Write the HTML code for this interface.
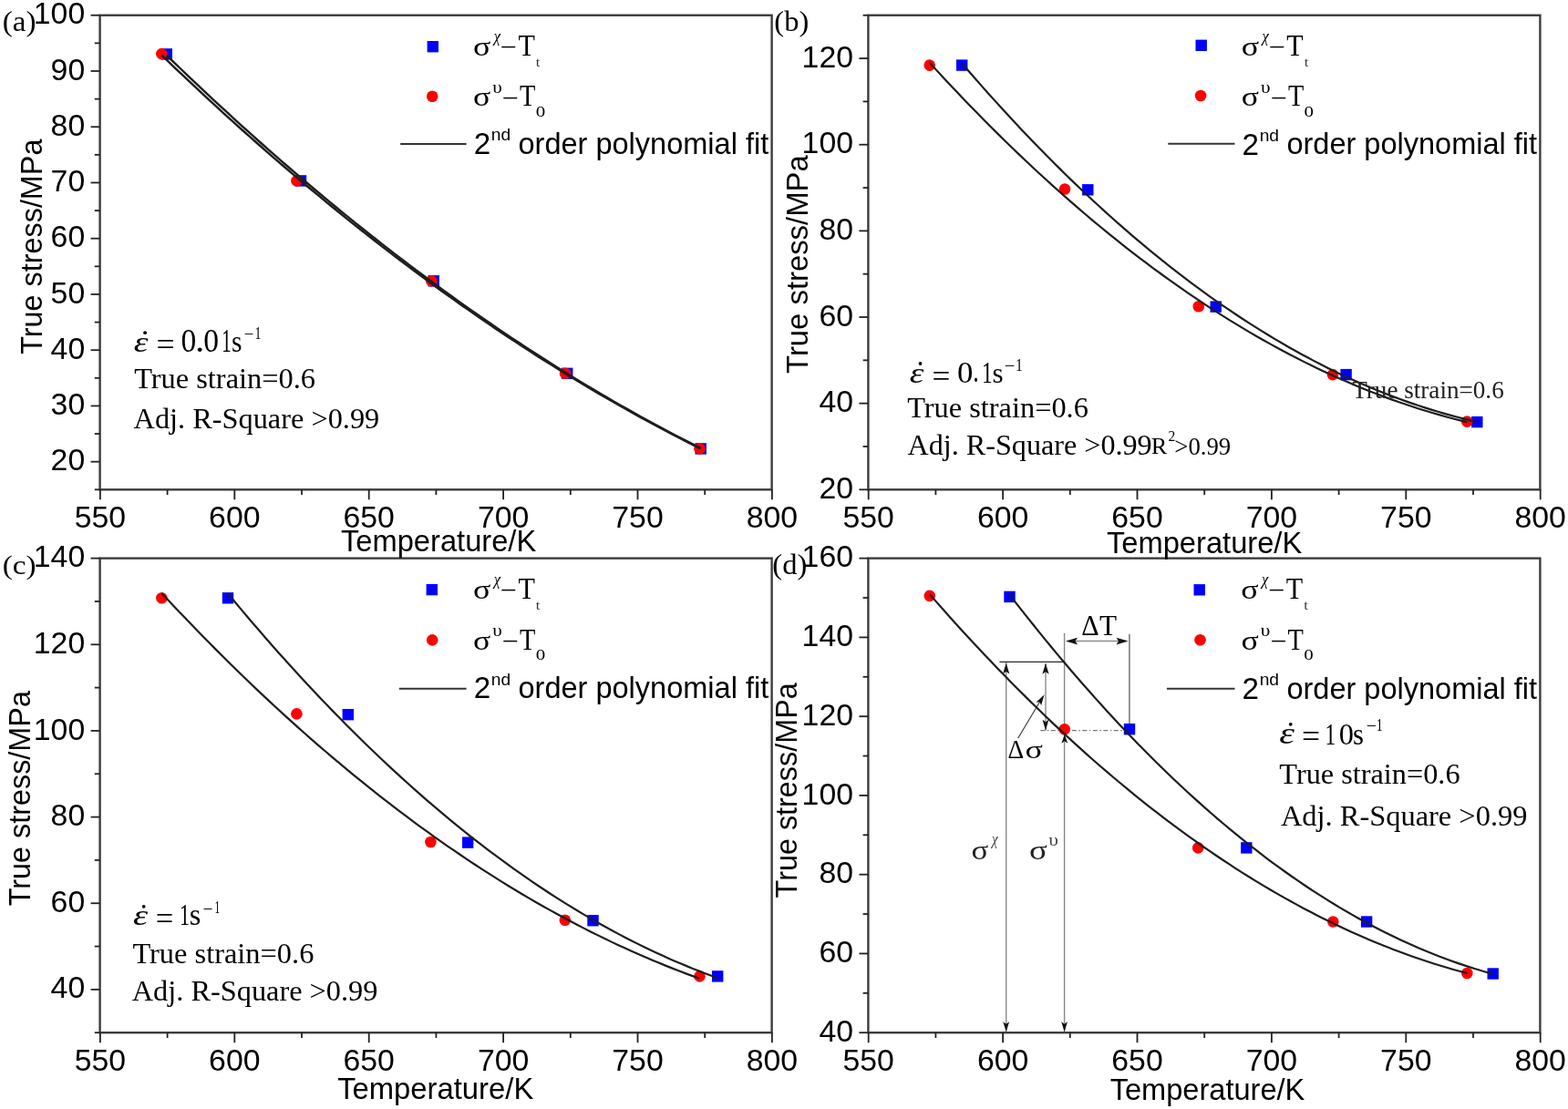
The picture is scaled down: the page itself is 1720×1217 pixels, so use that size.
<!DOCTYPE html>
<html><head><meta charset="utf-8"><title>True stress vs temperature</title>
<style>html,body{margin:0;padding:0;background:#fff;overflow:hidden;} svg{display:block;}</style></head>
<body><svg width="1720" height="1217" viewBox="0 0 1720 1217">
<rect width="1720" height="1217" fill="#fff"/>
<rect x="109.60" y="16.75" width="737.00" height="520.55" fill="none" stroke="#3c3c3c" stroke-width="2.4"/>
<line x1="109.90" y1="537.30" x2="109.90" y2="548.30" stroke="#222" stroke-width="1.8" />
<text x="109.90" y="578.80" font-family="'Liberation Sans', Arial, sans-serif" font-size="33.80" text-anchor="middle" fill="#000">550</text>
<line x1="257.30" y1="537.30" x2="257.30" y2="548.30" stroke="#222" stroke-width="1.8" />
<text x="257.30" y="578.80" font-family="'Liberation Sans', Arial, sans-serif" font-size="33.80" text-anchor="middle" fill="#000">600</text>
<line x1="404.70" y1="537.30" x2="404.70" y2="548.30" stroke="#222" stroke-width="1.8" />
<text x="404.70" y="578.80" font-family="'Liberation Sans', Arial, sans-serif" font-size="33.80" text-anchor="middle" fill="#000">650</text>
<line x1="552.10" y1="537.30" x2="552.10" y2="548.30" stroke="#222" stroke-width="1.8" />
<text x="552.10" y="578.80" font-family="'Liberation Sans', Arial, sans-serif" font-size="33.80" text-anchor="middle" fill="#000">700</text>
<line x1="699.50" y1="537.30" x2="699.50" y2="548.30" stroke="#222" stroke-width="1.8" />
<text x="699.50" y="578.80" font-family="'Liberation Sans', Arial, sans-serif" font-size="33.80" text-anchor="middle" fill="#000">750</text>
<line x1="846.90" y1="537.30" x2="846.90" y2="548.30" stroke="#222" stroke-width="1.8" />
<text x="846.90" y="578.80" font-family="'Liberation Sans', Arial, sans-serif" font-size="33.80" text-anchor="middle" fill="#000">800</text>
<line x1="183.60" y1="537.30" x2="183.60" y2="543.10" stroke="#222" stroke-width="1.8" />
<line x1="331.00" y1="537.30" x2="331.00" y2="543.10" stroke="#222" stroke-width="1.8" />
<line x1="478.40" y1="537.30" x2="478.40" y2="543.10" stroke="#222" stroke-width="1.8" />
<line x1="625.80" y1="537.30" x2="625.80" y2="543.10" stroke="#222" stroke-width="1.8" />
<line x1="773.20" y1="537.30" x2="773.20" y2="543.10" stroke="#222" stroke-width="1.8" />
<line x1="99.60" y1="506.68" x2="109.60" y2="506.68" stroke="#222" stroke-width="1.8" />
<text x="93.20" y="516.28" font-family="'Liberation Sans', Arial, sans-serif" font-size="33.80" text-anchor="end" fill="#000">20</text>
<line x1="99.60" y1="445.44" x2="109.60" y2="445.44" stroke="#222" stroke-width="1.8" />
<text x="93.20" y="455.04" font-family="'Liberation Sans', Arial, sans-serif" font-size="33.80" text-anchor="end" fill="#000">30</text>
<line x1="99.60" y1="384.20" x2="109.60" y2="384.20" stroke="#222" stroke-width="1.8" />
<text x="93.20" y="393.80" font-family="'Liberation Sans', Arial, sans-serif" font-size="33.80" text-anchor="end" fill="#000">40</text>
<line x1="99.60" y1="322.96" x2="109.60" y2="322.96" stroke="#222" stroke-width="1.8" />
<text x="93.20" y="332.56" font-family="'Liberation Sans', Arial, sans-serif" font-size="33.80" text-anchor="end" fill="#000">50</text>
<line x1="99.60" y1="261.71" x2="109.60" y2="261.71" stroke="#222" stroke-width="1.8" />
<text x="93.20" y="271.31" font-family="'Liberation Sans', Arial, sans-serif" font-size="33.80" text-anchor="end" fill="#000">60</text>
<line x1="99.60" y1="200.47" x2="109.60" y2="200.47" stroke="#222" stroke-width="1.8" />
<text x="93.20" y="210.07" font-family="'Liberation Sans', Arial, sans-serif" font-size="33.80" text-anchor="end" fill="#000">70</text>
<line x1="99.60" y1="139.23" x2="109.60" y2="139.23" stroke="#222" stroke-width="1.8" />
<text x="93.20" y="148.83" font-family="'Liberation Sans', Arial, sans-serif" font-size="33.80" text-anchor="end" fill="#000">80</text>
<line x1="99.60" y1="77.99" x2="109.60" y2="77.99" stroke="#222" stroke-width="1.8" />
<text x="93.20" y="87.59" font-family="'Liberation Sans', Arial, sans-serif" font-size="33.80" text-anchor="end" fill="#000">90</text>
<line x1="99.60" y1="16.75" x2="109.60" y2="16.75" stroke="#222" stroke-width="1.8" />
<text x="93.20" y="26.35" font-family="'Liberation Sans', Arial, sans-serif" font-size="33.80" text-anchor="end" fill="#000">100</text>
<line x1="103.80" y1="537.30" x2="109.60" y2="537.30" stroke="#222" stroke-width="1.8" />
<line x1="103.80" y1="476.06" x2="109.60" y2="476.06" stroke="#222" stroke-width="1.8" />
<line x1="103.80" y1="414.82" x2="109.60" y2="414.82" stroke="#222" stroke-width="1.8" />
<line x1="103.80" y1="353.58" x2="109.60" y2="353.58" stroke="#222" stroke-width="1.8" />
<line x1="103.80" y1="292.34" x2="109.60" y2="292.34" stroke="#222" stroke-width="1.8" />
<line x1="103.80" y1="231.09" x2="109.60" y2="231.09" stroke="#222" stroke-width="1.8" />
<line x1="103.80" y1="169.85" x2="109.60" y2="169.85" stroke="#222" stroke-width="1.8" />
<line x1="103.80" y1="108.61" x2="109.60" y2="108.61" stroke="#222" stroke-width="1.8" />
<line x1="103.80" y1="47.37" x2="109.60" y2="47.37" stroke="#222" stroke-width="1.8" />
<rect x="952.40" y="16.75" width="737.00" height="520.55" fill="none" stroke="#3c3c3c" stroke-width="2.4"/>
<line x1="952.70" y1="537.30" x2="952.70" y2="548.30" stroke="#222" stroke-width="1.8" />
<text x="952.70" y="578.80" font-family="'Liberation Sans', Arial, sans-serif" font-size="33.80" text-anchor="middle" fill="#000">550</text>
<line x1="1100.10" y1="537.30" x2="1100.10" y2="548.30" stroke="#222" stroke-width="1.8" />
<text x="1100.10" y="578.80" font-family="'Liberation Sans', Arial, sans-serif" font-size="33.80" text-anchor="middle" fill="#000">600</text>
<line x1="1247.50" y1="537.30" x2="1247.50" y2="548.30" stroke="#222" stroke-width="1.8" />
<text x="1247.50" y="578.80" font-family="'Liberation Sans', Arial, sans-serif" font-size="33.80" text-anchor="middle" fill="#000">650</text>
<line x1="1394.90" y1="537.30" x2="1394.90" y2="548.30" stroke="#222" stroke-width="1.8" />
<text x="1394.90" y="578.80" font-family="'Liberation Sans', Arial, sans-serif" font-size="33.80" text-anchor="middle" fill="#000">700</text>
<line x1="1542.30" y1="537.30" x2="1542.30" y2="548.30" stroke="#222" stroke-width="1.8" />
<text x="1542.30" y="578.80" font-family="'Liberation Sans', Arial, sans-serif" font-size="33.80" text-anchor="middle" fill="#000">750</text>
<line x1="1689.70" y1="537.30" x2="1689.70" y2="548.30" stroke="#222" stroke-width="1.8" />
<text x="1689.70" y="578.80" font-family="'Liberation Sans', Arial, sans-serif" font-size="33.80" text-anchor="middle" fill="#000">800</text>
<line x1="1026.40" y1="537.30" x2="1026.40" y2="543.10" stroke="#222" stroke-width="1.8" />
<line x1="1173.80" y1="537.30" x2="1173.80" y2="543.10" stroke="#222" stroke-width="1.8" />
<line x1="1321.20" y1="537.30" x2="1321.20" y2="543.10" stroke="#222" stroke-width="1.8" />
<line x1="1468.60" y1="537.30" x2="1468.60" y2="543.10" stroke="#222" stroke-width="1.8" />
<line x1="1616.00" y1="537.30" x2="1616.00" y2="543.10" stroke="#222" stroke-width="1.8" />
<line x1="942.40" y1="537.30" x2="952.40" y2="537.30" stroke="#222" stroke-width="1.8" />
<text x="936.00" y="546.90" font-family="'Liberation Sans', Arial, sans-serif" font-size="33.80" text-anchor="end" fill="#000">20</text>
<line x1="942.40" y1="442.65" x2="952.40" y2="442.65" stroke="#222" stroke-width="1.8" />
<text x="936.00" y="452.25" font-family="'Liberation Sans', Arial, sans-serif" font-size="33.80" text-anchor="end" fill="#000">40</text>
<line x1="942.40" y1="348.01" x2="952.40" y2="348.01" stroke="#222" stroke-width="1.8" />
<text x="936.00" y="357.61" font-family="'Liberation Sans', Arial, sans-serif" font-size="33.80" text-anchor="end" fill="#000">60</text>
<line x1="942.40" y1="253.36" x2="952.40" y2="253.36" stroke="#222" stroke-width="1.8" />
<text x="936.00" y="262.96" font-family="'Liberation Sans', Arial, sans-serif" font-size="33.80" text-anchor="end" fill="#000">80</text>
<line x1="942.40" y1="158.72" x2="952.40" y2="158.72" stroke="#222" stroke-width="1.8" />
<text x="936.00" y="168.32" font-family="'Liberation Sans', Arial, sans-serif" font-size="33.80" text-anchor="end" fill="#000">100</text>
<line x1="942.40" y1="64.07" x2="952.40" y2="64.07" stroke="#222" stroke-width="1.8" />
<text x="936.00" y="73.67" font-family="'Liberation Sans', Arial, sans-serif" font-size="33.80" text-anchor="end" fill="#000">120</text>
<line x1="946.60" y1="489.98" x2="952.40" y2="489.98" stroke="#222" stroke-width="1.8" />
<line x1="946.60" y1="395.33" x2="952.40" y2="395.33" stroke="#222" stroke-width="1.8" />
<line x1="946.60" y1="300.69" x2="952.40" y2="300.69" stroke="#222" stroke-width="1.8" />
<line x1="946.60" y1="206.04" x2="952.40" y2="206.04" stroke="#222" stroke-width="1.8" />
<line x1="946.60" y1="111.40" x2="952.40" y2="111.40" stroke="#222" stroke-width="1.8" />
<line x1="946.60" y1="16.75" x2="952.40" y2="16.75" stroke="#222" stroke-width="1.8" />
<rect x="109.60" y="612.65" width="737.00" height="520.55" fill="none" stroke="#3c3c3c" stroke-width="2.4"/>
<line x1="109.90" y1="1133.20" x2="109.90" y2="1144.20" stroke="#222" stroke-width="1.8" />
<text x="109.90" y="1174.70" font-family="'Liberation Sans', Arial, sans-serif" font-size="33.80" text-anchor="middle" fill="#000">550</text>
<line x1="257.30" y1="1133.20" x2="257.30" y2="1144.20" stroke="#222" stroke-width="1.8" />
<text x="257.30" y="1174.70" font-family="'Liberation Sans', Arial, sans-serif" font-size="33.80" text-anchor="middle" fill="#000">600</text>
<line x1="404.70" y1="1133.20" x2="404.70" y2="1144.20" stroke="#222" stroke-width="1.8" />
<text x="404.70" y="1174.70" font-family="'Liberation Sans', Arial, sans-serif" font-size="33.80" text-anchor="middle" fill="#000">650</text>
<line x1="552.10" y1="1133.20" x2="552.10" y2="1144.20" stroke="#222" stroke-width="1.8" />
<text x="552.10" y="1174.70" font-family="'Liberation Sans', Arial, sans-serif" font-size="33.80" text-anchor="middle" fill="#000">700</text>
<line x1="699.50" y1="1133.20" x2="699.50" y2="1144.20" stroke="#222" stroke-width="1.8" />
<text x="699.50" y="1174.70" font-family="'Liberation Sans', Arial, sans-serif" font-size="33.80" text-anchor="middle" fill="#000">750</text>
<line x1="846.90" y1="1133.20" x2="846.90" y2="1144.20" stroke="#222" stroke-width="1.8" />
<text x="846.90" y="1174.70" font-family="'Liberation Sans', Arial, sans-serif" font-size="33.80" text-anchor="middle" fill="#000">800</text>
<line x1="183.60" y1="1133.20" x2="183.60" y2="1139.00" stroke="#222" stroke-width="1.8" />
<line x1="331.00" y1="1133.20" x2="331.00" y2="1139.00" stroke="#222" stroke-width="1.8" />
<line x1="478.40" y1="1133.20" x2="478.40" y2="1139.00" stroke="#222" stroke-width="1.8" />
<line x1="625.80" y1="1133.20" x2="625.80" y2="1139.00" stroke="#222" stroke-width="1.8" />
<line x1="773.20" y1="1133.20" x2="773.20" y2="1139.00" stroke="#222" stroke-width="1.8" />
<line x1="99.60" y1="1085.88" x2="109.60" y2="1085.88" stroke="#222" stroke-width="1.8" />
<text x="93.20" y="1095.48" font-family="'Liberation Sans', Arial, sans-serif" font-size="33.80" text-anchor="end" fill="#000">40</text>
<line x1="99.60" y1="991.23" x2="109.60" y2="991.23" stroke="#222" stroke-width="1.8" />
<text x="93.20" y="1000.83" font-family="'Liberation Sans', Arial, sans-serif" font-size="33.80" text-anchor="end" fill="#000">60</text>
<line x1="99.60" y1="896.59" x2="109.60" y2="896.59" stroke="#222" stroke-width="1.8" />
<text x="93.20" y="906.19" font-family="'Liberation Sans', Arial, sans-serif" font-size="33.80" text-anchor="end" fill="#000">80</text>
<line x1="99.60" y1="801.94" x2="109.60" y2="801.94" stroke="#222" stroke-width="1.8" />
<text x="93.20" y="811.54" font-family="'Liberation Sans', Arial, sans-serif" font-size="33.80" text-anchor="end" fill="#000">100</text>
<line x1="99.60" y1="707.30" x2="109.60" y2="707.30" stroke="#222" stroke-width="1.8" />
<text x="93.20" y="716.90" font-family="'Liberation Sans', Arial, sans-serif" font-size="33.80" text-anchor="end" fill="#000">120</text>
<line x1="99.60" y1="612.65" x2="109.60" y2="612.65" stroke="#222" stroke-width="1.8" />
<text x="93.20" y="622.25" font-family="'Liberation Sans', Arial, sans-serif" font-size="33.80" text-anchor="end" fill="#000">140</text>
<line x1="103.80" y1="1133.20" x2="109.60" y2="1133.20" stroke="#222" stroke-width="1.8" />
<line x1="103.80" y1="1038.55" x2="109.60" y2="1038.55" stroke="#222" stroke-width="1.8" />
<line x1="103.80" y1="943.91" x2="109.60" y2="943.91" stroke="#222" stroke-width="1.8" />
<line x1="103.80" y1="849.26" x2="109.60" y2="849.26" stroke="#222" stroke-width="1.8" />
<line x1="103.80" y1="754.62" x2="109.60" y2="754.62" stroke="#222" stroke-width="1.8" />
<line x1="103.80" y1="659.97" x2="109.60" y2="659.97" stroke="#222" stroke-width="1.8" />
<rect x="952.40" y="612.65" width="737.00" height="520.55" fill="none" stroke="#3c3c3c" stroke-width="2.4"/>
<line x1="952.70" y1="1133.20" x2="952.70" y2="1144.20" stroke="#222" stroke-width="1.8" />
<text x="952.70" y="1174.70" font-family="'Liberation Sans', Arial, sans-serif" font-size="33.80" text-anchor="middle" fill="#000">550</text>
<line x1="1100.10" y1="1133.20" x2="1100.10" y2="1144.20" stroke="#222" stroke-width="1.8" />
<text x="1100.10" y="1174.70" font-family="'Liberation Sans', Arial, sans-serif" font-size="33.80" text-anchor="middle" fill="#000">600</text>
<line x1="1247.50" y1="1133.20" x2="1247.50" y2="1144.20" stroke="#222" stroke-width="1.8" />
<text x="1247.50" y="1174.70" font-family="'Liberation Sans', Arial, sans-serif" font-size="33.80" text-anchor="middle" fill="#000">650</text>
<line x1="1394.90" y1="1133.20" x2="1394.90" y2="1144.20" stroke="#222" stroke-width="1.8" />
<text x="1394.90" y="1174.70" font-family="'Liberation Sans', Arial, sans-serif" font-size="33.80" text-anchor="middle" fill="#000">700</text>
<line x1="1542.30" y1="1133.20" x2="1542.30" y2="1144.20" stroke="#222" stroke-width="1.8" />
<text x="1542.30" y="1174.70" font-family="'Liberation Sans', Arial, sans-serif" font-size="33.80" text-anchor="middle" fill="#000">750</text>
<line x1="1689.70" y1="1133.20" x2="1689.70" y2="1144.20" stroke="#222" stroke-width="1.8" />
<text x="1689.70" y="1174.70" font-family="'Liberation Sans', Arial, sans-serif" font-size="33.80" text-anchor="middle" fill="#000">800</text>
<line x1="1026.40" y1="1133.20" x2="1026.40" y2="1139.00" stroke="#222" stroke-width="1.8" />
<line x1="1173.80" y1="1133.20" x2="1173.80" y2="1139.00" stroke="#222" stroke-width="1.8" />
<line x1="1321.20" y1="1133.20" x2="1321.20" y2="1139.00" stroke="#222" stroke-width="1.8" />
<line x1="1468.60" y1="1133.20" x2="1468.60" y2="1139.00" stroke="#222" stroke-width="1.8" />
<line x1="1616.00" y1="1133.20" x2="1616.00" y2="1139.00" stroke="#222" stroke-width="1.8" />
<line x1="942.40" y1="1133.20" x2="952.40" y2="1133.20" stroke="#222" stroke-width="1.8" />
<text x="936.00" y="1142.80" font-family="'Liberation Sans', Arial, sans-serif" font-size="33.80" text-anchor="end" fill="#000">40</text>
<line x1="942.40" y1="1046.44" x2="952.40" y2="1046.44" stroke="#222" stroke-width="1.8" />
<text x="936.00" y="1056.04" font-family="'Liberation Sans', Arial, sans-serif" font-size="33.80" text-anchor="end" fill="#000">60</text>
<line x1="942.40" y1="959.68" x2="952.40" y2="959.68" stroke="#222" stroke-width="1.8" />
<text x="936.00" y="969.28" font-family="'Liberation Sans', Arial, sans-serif" font-size="33.80" text-anchor="end" fill="#000">80</text>
<line x1="942.40" y1="872.92" x2="952.40" y2="872.92" stroke="#222" stroke-width="1.8" />
<text x="936.00" y="882.52" font-family="'Liberation Sans', Arial, sans-serif" font-size="33.80" text-anchor="end" fill="#000">100</text>
<line x1="942.40" y1="786.17" x2="952.40" y2="786.17" stroke="#222" stroke-width="1.8" />
<text x="936.00" y="795.77" font-family="'Liberation Sans', Arial, sans-serif" font-size="33.80" text-anchor="end" fill="#000">120</text>
<line x1="942.40" y1="699.41" x2="952.40" y2="699.41" stroke="#222" stroke-width="1.8" />
<text x="936.00" y="709.01" font-family="'Liberation Sans', Arial, sans-serif" font-size="33.80" text-anchor="end" fill="#000">140</text>
<line x1="942.40" y1="612.65" x2="952.40" y2="612.65" stroke="#222" stroke-width="1.8" />
<text x="936.00" y="622.25" font-family="'Liberation Sans', Arial, sans-serif" font-size="33.80" text-anchor="end" fill="#000">160</text>
<line x1="946.60" y1="1089.82" x2="952.40" y2="1089.82" stroke="#222" stroke-width="1.8" />
<line x1="946.60" y1="1003.06" x2="952.40" y2="1003.06" stroke="#222" stroke-width="1.8" />
<line x1="946.60" y1="916.30" x2="952.40" y2="916.30" stroke="#222" stroke-width="1.8" />
<line x1="946.60" y1="829.55" x2="952.40" y2="829.55" stroke="#222" stroke-width="1.8" />
<line x1="946.60" y1="742.79" x2="952.40" y2="742.79" stroke="#222" stroke-width="1.8" />
<line x1="946.60" y1="656.03" x2="952.40" y2="656.03" stroke="#222" stroke-width="1.8" />
<text x="373.96" y="605.30" font-family="'Liberation Sans', Arial, sans-serif" font-size="32.69" text-anchor="start" fill="#000">Temperature/K</text>
<text x="1213.96" y="607.00" font-family="'Liberation Sans', Arial, sans-serif" font-size="32.69" text-anchor="start" fill="#000">Temperature/K</text>
<text x="370.16" y="1205.80" font-family="'Liberation Sans', Arial, sans-serif" font-size="32.80" text-anchor="start" fill="#000">Temperature/K</text>
<text x="1217.67" y="1206.50" font-family="'Liberation Sans', Arial, sans-serif" font-size="32.58" text-anchor="start" fill="#000">Temperature/K</text>
<text transform="translate(45.98,388.83) rotate(-90)" font-family="'Liberation Sans', Arial, sans-serif" font-size="32.38" text-anchor="start" fill="#000">True stress/MPa</text>
<text transform="translate(885.97,409.94) rotate(-90)" font-family="'Liberation Sans', Arial, sans-serif" font-size="32.84" text-anchor="start" fill="#000">True stress/MPa</text>
<text transform="translate(32.68,994.33) rotate(-90)" font-family="'Liberation Sans', Arial, sans-serif" font-size="32.38" text-anchor="start" fill="#000">True stress/MPa</text>
<text transform="translate(874.28,985.43) rotate(-90)" font-family="'Liberation Sans', Arial, sans-serif" font-size="32.37" text-anchor="start" fill="#000">True stress/MPa</text>
<text transform="translate(2.80,33.63) scale(1.0588,1)" font-family="'Liberation Serif', 'Times New Roman', serif" font-size="31.40" text-anchor="start" fill="#000">(a)</text>
<text transform="translate(849.34,34.24) scale(1.0528,1)" font-family="'Liberation Serif', 'Times New Roman', serif" font-size="30.85" text-anchor="start" fill="#000">(b)</text>
<text transform="translate(2.80,629.98) scale(1.1176,1)" font-family="'Liberation Serif', 'Times New Roman', serif" font-size="29.75" text-anchor="start" fill="#000">(c)</text>
<text transform="translate(847.34,630.24) scale(1.0528,1)" font-family="'Liberation Serif', 'Times New Roman', serif" font-size="30.85" text-anchor="start" fill="#000">(d)</text>
<line x1="1103.70" y1="726.40" x2="1103.70" y2="1132.20" stroke="#8a8a8a" stroke-width="1.4" />
<line x1="1167.60" y1="694.80" x2="1167.60" y2="1132.20" stroke="#8a8a8a" stroke-width="1.4" />
<line x1="1147.00" y1="728.00" x2="1147.00" y2="801.50" stroke="#8a8a8a" stroke-width="1.4" />
<line x1="1238.90" y1="695.70" x2="1238.90" y2="800.00" stroke="#8a8a8a" stroke-width="1.8" />
<line x1="1096.40" y1="726.40" x2="1167.60" y2="726.40" stroke="#2a2a2a" stroke-width="1.3" />
<line x1="1172.00" y1="703.60" x2="1235.00" y2="703.60" stroke="#8a8a8a" stroke-width="1.5" />
<path d="M1169.00,703.60 L1182.00,699.80 L1179.50,703.60 L1182.00,707.40 Z" fill="#111"/>
<path d="M1237.50,703.60 L1224.50,707.40 L1227.00,703.60 L1224.50,699.80 Z" fill="#111"/>
<path d="M1103.70,727.60 L1107.30,739.60 L1103.70,737.10 L1100.10,739.60 Z" fill="#111"/>
<path d="M1147.00,727.80 L1150.60,739.80 L1147.00,737.30 L1143.40,739.80 Z" fill="#111"/>
<path d="M1147.00,801.70 L1143.60,789.70 L1147.00,792.20 L1150.40,789.70 Z" fill="#111"/>
<path d="M1167.80,805.80 L1171.20,815.80 L1167.80,813.30 L1164.40,815.80 Z" fill="#111"/>
<path d="M1103.70,1132.20 L1100.30,1121.20 L1103.70,1123.70 L1107.10,1121.20 Z" fill="#111"/>
<path d="M1167.60,1132.20 L1164.20,1121.20 L1167.60,1123.70 L1171.00,1121.20 Z" fill="#111"/>
<line x1="1141.30" y1="801.70" x2="1232.00" y2="801.70" stroke="#777" stroke-width="1.3" stroke-dasharray="5,2.5,1.5,2.5"/>
<line x1="1116.60" y1="810.20" x2="1141.00" y2="769.50" stroke="#333" stroke-width="1.1" />
<path d="M1145.60,762.20 L1142.05,774.13 L1140.57,770.26 L1136.45,770.64 Z" fill="#111"/>
<text transform="translate(1186.37,697.30) scale(0.9337,1)" font-family="'Liberation Serif', 'Times New Roman', serif" font-size="32.27" text-anchor="start" fill="#000">Δ</text>
<text transform="translate(1206.05,697.30) scale(0.9585,1)" font-family="'Liberation Serif', 'Times New Roman', serif" font-size="32.52" text-anchor="start" fill="#000">T</text>
<text transform="translate(1105.57,832.10) scale(0.9256,1)" font-family="'Liberation Serif', 'Times New Roman', serif" font-size="29.70" text-anchor="start" fill="#000">Δ</text>
<text transform="translate(1124.45,832.02) scale(1.3009,1)" font-family="'Liberation Serif', 'Times New Roman', serif" font-size="27.75" text-anchor="start" fill="#000">σ</text>
<text transform="translate(1065.39,943.01) scale(1.2067,1)" font-family="'Liberation Serif', 'Times New Roman', serif" font-size="28.90" text-anchor="start" fill="#222">σ</text>
<text transform="translate(1088.00,927.36) scale(0.7881,1)" font-family="'Liberation Serif', 'Times New Roman', serif" font-style="italic" font-size="19.03" text-anchor="start" fill="#444">χ</text>
<text transform="translate(1128.92,943.01) scale(1.2776,1)" font-family="'Liberation Serif', 'Times New Roman', serif" font-size="28.90" text-anchor="start" fill="#222">σ</text>
<text transform="translate(1150.23,928.02) scale(1.2109,1)" font-family="'Liberation Serif', 'Times New Roman', serif" font-size="17.92" text-anchor="start" fill="#444">υ</text>
<rect x="176.60" y="53.20" width="12.4" height="12.4" fill="#0000ff"/>
<rect x="323.80" y="192.20" width="12.4" height="12.4" fill="#0000ff"/>
<rect x="469.50" y="302.10" width="12.4" height="12.4" fill="#0000ff"/>
<rect x="616.00" y="403.60" width="12.4" height="12.4" fill="#0000ff"/>
<rect x="762.50" y="486.20" width="12.4" height="12.4" fill="#0000ff"/>
<circle cx="177.30" cy="59.10" r="6.3" fill="#ff0000"/>
<circle cx="325.40" cy="198.40" r="6.3" fill="#ff0000"/>
<circle cx="473.40" cy="308.40" r="6.3" fill="#ff0000"/>
<circle cx="620.00" cy="409.80" r="6.3" fill="#ff0000"/>
<circle cx="767.50" cy="492.40" r="6.3" fill="#ff0000"/>
<path d="M177.30,60.54 L184.77,67.71 L192.24,74.84 L199.71,81.93 L207.18,88.97 L214.65,95.97 L222.13,102.93 L229.60,109.84 L237.07,116.71 L244.54,123.53 L252.01,130.31 L259.48,137.05 L266.95,143.74 L274.42,150.39 L281.89,156.99 L289.36,163.55 L296.83,170.07 L304.31,176.54 L311.78,182.97 L319.25,189.35 L326.72,195.69 L334.19,201.98 L341.66,208.24 L349.13,214.44 L356.60,220.61 L364.07,226.73 L371.54,232.80 L379.01,238.84 L386.48,244.83 L393.96,250.77 L401.43,256.67 L408.90,262.53 L416.37,268.34 L423.84,274.11 L431.31,279.83 L438.78,285.51 L446.25,291.15 L453.72,296.74 L461.19,302.29 L468.66,307.79 L476.14,313.25 L483.61,318.67 L491.08,324.04 L498.55,329.37 L506.02,334.65 L513.49,339.89 L520.96,345.09 L528.43,350.24 L535.90,355.35 L543.37,360.42 L550.84,365.44 L558.32,370.41 L565.79,375.35 L573.26,380.24 L580.73,385.08 L588.20,389.88 L595.67,394.64 L603.14,399.35 L610.61,404.02 L618.08,408.64 L625.55,413.23 L633.02,417.76 L640.49,422.26 L647.97,426.70 L655.44,431.11 L662.91,435.47 L670.38,439.79 L677.85,444.06 L685.32,448.29 L692.79,452.47 L700.26,456.62 L707.73,460.71 L715.20,464.77 L722.67,468.78 L730.15,472.74 L737.62,476.66 L745.09,480.54 L752.56,484.37 L760.03,488.16 L767.50,491.91" fill="none" stroke="#1e1e1e" stroke-width="2.4"/>
<path d="M182.80,60.69 L190.22,67.88 L197.63,75.01 L205.05,82.11 L212.47,89.16 L219.88,96.16 L227.30,103.13 L234.72,110.04 L242.13,116.92 L249.55,123.74 L256.96,130.53 L264.38,137.27 L271.80,143.97 L279.21,150.62 L286.63,157.23 L294.05,163.79 L301.46,170.31 L308.88,176.78 L316.30,183.22 L323.71,189.60 L331.13,195.94 L338.55,202.24 L345.96,208.50 L353.38,214.71 L360.79,220.87 L368.21,226.99 L375.63,233.07 L383.04,239.11 L390.46,245.09 L397.88,251.04 L405.29,256.94 L412.71,262.80 L420.13,268.61 L427.54,274.38 L434.96,280.10 L442.38,285.78 L449.79,291.41 L457.21,297.01 L464.63,302.55 L472.04,308.06 L479.46,313.51 L486.87,318.93 L494.29,324.30 L501.71,329.62 L509.12,334.91 L516.54,340.14 L523.96,345.34 L531.37,350.49 L538.79,355.59 L546.21,360.65 L553.62,365.67 L561.04,370.64 L568.46,375.57 L575.87,380.45 L583.29,385.29 L590.71,390.09 L598.12,394.84 L605.54,399.54 L612.95,404.21 L620.37,408.83 L627.79,413.40 L635.20,417.93 L642.62,422.42 L650.04,426.86 L657.45,431.26 L664.87,435.61 L672.29,439.92 L679.70,444.18 L687.12,448.40 L694.54,452.58 L701.95,456.71 L709.37,460.80 L716.78,464.84 L724.20,468.84 L731.62,472.80 L739.03,476.71 L746.45,480.58 L753.87,484.40 L761.28,488.18 L768.70,491.91" fill="none" stroke="#1e1e1e" stroke-width="2.4"/>
<rect x="1049.00" y="65.40" width="12.4" height="12.4" fill="#0000ff"/>
<rect x="1187.10" y="202.10" width="12.4" height="12.4" fill="#0000ff"/>
<rect x="1327.50" y="330.40" width="12.4" height="12.4" fill="#0000ff"/>
<rect x="1470.40" y="404.90" width="12.4" height="12.4" fill="#0000ff"/>
<rect x="1614.10" y="456.90" width="12.4" height="12.4" fill="#0000ff"/>
<circle cx="1019.70" cy="71.60" r="6.3" fill="#ff0000"/>
<circle cx="1168.00" cy="207.50" r="6.3" fill="#ff0000"/>
<circle cx="1314.80" cy="336.20" r="6.3" fill="#ff0000"/>
<circle cx="1461.90" cy="411.10" r="6.3" fill="#ff0000"/>
<circle cx="1609.20" cy="462.60" r="6.3" fill="#ff0000"/>
<path d="M1019.70,68.72 L1027.16,76.87 L1034.62,84.94 L1042.09,92.93 L1049.55,100.84 L1057.01,108.67 L1064.47,116.42 L1071.93,124.09 L1079.40,131.68 L1086.86,139.18 L1094.32,146.60 L1101.78,153.95 L1109.24,161.21 L1116.71,168.39 L1124.17,175.49 L1131.63,182.51 L1139.09,189.45 L1146.55,196.31 L1154.02,203.08 L1161.48,209.78 L1168.94,216.39 L1176.40,222.93 L1183.86,229.38 L1191.33,235.75 L1198.79,242.04 L1206.25,248.25 L1213.71,254.38 L1221.17,260.42 L1228.64,266.39 L1236.10,272.28 L1243.56,278.08 L1251.02,283.80 L1258.48,289.45 L1265.95,295.01 L1273.41,300.49 L1280.87,305.89 L1288.33,311.20 L1295.79,316.44 L1303.26,321.60 L1310.72,326.67 L1318.18,331.67 L1325.64,336.58 L1333.11,341.41 L1340.57,346.16 L1348.03,350.83 L1355.49,355.42 L1362.95,359.93 L1370.42,364.36 L1377.88,368.70 L1385.34,372.97 L1392.80,377.15 L1400.26,381.26 L1407.73,385.28 L1415.19,389.22 L1422.65,393.08 L1430.11,396.86 L1437.57,400.56 L1445.04,404.17 L1452.50,407.71 L1459.96,411.17 L1467.42,414.54 L1474.88,417.83 L1482.35,421.04 L1489.81,424.18 L1497.27,427.23 L1504.73,430.19 L1512.19,433.08 L1519.66,435.89 L1527.12,438.62 L1534.58,441.26 L1542.04,443.82 L1549.50,446.31 L1556.97,448.71 L1564.43,451.03 L1571.89,453.27 L1579.35,455.43 L1586.81,457.51 L1594.28,459.50 L1601.74,461.42 L1609.20,463.26" fill="none" stroke="#1e1e1e" stroke-width="2.2"/>
<path d="M1055.20,69.42 L1062.35,77.74 L1069.51,85.96 L1076.66,94.11 L1083.81,102.16 L1090.97,110.13 L1098.12,118.02 L1105.27,125.82 L1112.43,133.53 L1119.58,141.16 L1126.73,148.71 L1133.88,156.17 L1141.04,163.54 L1148.19,170.83 L1155.34,178.03 L1162.50,185.15 L1169.65,192.18 L1176.80,199.12 L1183.96,205.98 L1191.11,212.76 L1198.26,219.45 L1205.42,226.05 L1212.57,232.57 L1219.72,239.01 L1226.88,245.36 L1234.03,251.62 L1241.18,257.80 L1248.34,263.89 L1255.49,269.89 L1262.64,275.82 L1269.79,281.65 L1276.95,287.40 L1284.10,293.07 L1291.25,298.65 L1298.41,304.14 L1305.56,309.55 L1312.71,314.87 L1319.87,320.11 L1327.02,325.27 L1334.17,330.33 L1341.33,335.32 L1348.48,340.21 L1355.63,345.02 L1362.79,349.75 L1369.94,354.39 L1377.09,358.94 L1384.25,363.41 L1391.40,367.80 L1398.55,372.10 L1405.71,376.31 L1412.86,380.44 L1420.01,384.48 L1427.16,388.44 L1434.32,392.31 L1441.47,396.10 L1448.62,399.80 L1455.78,403.41 L1462.93,406.94 L1470.08,410.39 L1477.24,413.75 L1484.39,417.02 L1491.54,420.21 L1498.70,423.31 L1505.85,426.33 L1513.00,429.27 L1520.16,432.11 L1527.31,434.87 L1534.46,437.55 L1541.62,440.14 L1548.77,442.65 L1555.92,445.07 L1563.07,447.40 L1570.23,449.65 L1577.38,451.81 L1584.53,453.89 L1591.69,455.89 L1598.84,457.79 L1605.99,459.62 L1613.15,461.35 L1620.30,463.01" fill="none" stroke="#1e1e1e" stroke-width="2.2"/>
<rect x="243.80" y="650.10" width="12.4" height="12.4" fill="#0000ff"/>
<rect x="375.60" y="778.00" width="12.4" height="12.4" fill="#0000ff"/>
<rect x="507.00" y="918.40" width="12.4" height="12.4" fill="#0000ff"/>
<rect x="644.30" y="1004.00" width="12.4" height="12.4" fill="#0000ff"/>
<rect x="781.00" y="1065.20" width="12.4" height="12.4" fill="#0000ff"/>
<circle cx="177.40" cy="656.30" r="6.3" fill="#ff0000"/>
<circle cx="325.40" cy="783.40" r="6.3" fill="#ff0000"/>
<circle cx="472.40" cy="924.00" r="6.3" fill="#ff0000"/>
<circle cx="619.80" cy="1009.80" r="6.3" fill="#ff0000"/>
<circle cx="767.40" cy="1071.40" r="6.3" fill="#ff0000"/>
<path d="M177.40,651.02 L184.87,659.02 L192.34,666.95 L199.81,674.81 L207.27,682.61 L214.74,690.33 L222.21,697.99 L229.68,705.59 L237.15,713.11 L244.62,720.57 L252.08,727.95 L259.55,735.27 L267.02,742.53 L274.49,749.71 L281.96,756.83 L289.43,763.88 L296.89,770.86 L304.36,777.77 L311.83,784.62 L319.30,791.39 L326.77,798.10 L334.24,804.75 L341.70,811.32 L349.17,817.83 L356.64,824.26 L364.11,830.63 L371.58,836.94 L379.05,843.17 L386.51,849.34 L393.98,855.44 L401.45,861.47 L408.92,867.43 L416.39,873.32 L423.86,879.15 L431.32,884.91 L438.79,890.60 L446.26,896.23 L453.73,901.78 L461.20,907.27 L468.67,912.69 L476.13,918.04 L483.60,923.33 L491.07,928.54 L498.54,933.69 L506.01,938.77 L513.48,943.79 L520.94,948.73 L528.41,953.61 L535.88,958.42 L543.35,963.16 L550.82,967.83 L558.29,972.44 L565.75,976.97 L573.22,981.44 L580.69,985.85 L588.16,990.18 L595.63,994.45 L603.10,998.65 L610.56,1002.78 L618.03,1006.84 L625.50,1010.83 L632.97,1014.76 L640.44,1018.62 L647.91,1022.41 L655.37,1026.13 L662.84,1029.79 L670.31,1033.38 L677.78,1036.90 L685.25,1040.35 L692.72,1043.73 L700.18,1047.05 L707.65,1050.30 L715.12,1053.48 L722.59,1056.59 L730.06,1059.63 L737.53,1062.61 L744.99,1065.52 L752.46,1068.36 L759.93,1071.13 L767.40,1073.84" fill="none" stroke="#1e1e1e" stroke-width="2.2"/>
<path d="M250.00,651.25 L256.80,659.47 L263.60,667.61 L270.40,675.67 L277.20,683.67 L284.00,691.58 L290.80,699.43 L297.60,707.20 L304.40,714.90 L311.20,722.53 L318.00,730.08 L324.80,737.55 L331.60,744.96 L338.40,752.29 L345.20,759.55 L352.00,766.73 L358.80,773.84 L365.60,780.87 L372.40,787.83 L379.20,794.72 L386.00,801.54 L392.80,808.28 L399.60,814.95 L406.40,821.54 L413.20,828.06 L420.00,834.51 L426.80,840.88 L433.60,847.18 L440.40,853.40 L447.20,859.55 L454.00,865.63 L460.80,871.64 L467.60,877.57 L474.40,883.42 L481.20,889.21 L488.00,894.92 L494.80,900.55 L501.60,906.12 L508.40,911.60 L515.20,917.02 L522.00,922.36 L528.80,927.63 L535.60,932.82 L542.40,937.94 L549.20,942.99 L556.00,947.96 L562.80,952.86 L569.60,957.69 L576.40,962.44 L583.20,967.12 L590.00,971.72 L596.80,976.26 L603.60,980.71 L610.40,985.10 L617.20,989.41 L624.00,993.64 L630.80,997.81 L637.60,1001.90 L644.40,1005.91 L651.20,1009.85 L658.00,1013.72 L664.80,1017.52 L671.60,1021.24 L678.40,1024.89 L685.20,1028.46 L692.00,1031.96 L698.80,1035.39 L705.60,1038.74 L712.40,1042.02 L719.20,1045.22 L726.00,1048.35 L732.80,1051.41 L739.60,1054.40 L746.40,1057.31 L753.20,1060.14 L760.00,1062.91 L766.80,1065.60 L773.60,1068.21 L780.40,1070.76 L787.20,1073.23" fill="none" stroke="#1e1e1e" stroke-width="2.2"/>
<rect x="1101.30" y="648.70" width="12.4" height="12.4" fill="#0000ff"/>
<rect x="1232.80" y="794.00" width="12.4" height="12.4" fill="#0000ff"/>
<rect x="1361.10" y="924.20" width="12.4" height="12.4" fill="#0000ff"/>
<rect x="1492.90" y="1005.30" width="12.4" height="12.4" fill="#0000ff"/>
<rect x="1631.50" y="1062.30" width="12.4" height="12.4" fill="#0000ff"/>
<circle cx="1019.80" cy="653.90" r="6.3" fill="#ff0000"/>
<circle cx="1167.70" cy="800.20" r="6.3" fill="#ff0000"/>
<circle cx="1314.20" cy="930.40" r="6.3" fill="#ff0000"/>
<circle cx="1462.30" cy="1011.50" r="6.3" fill="#ff0000"/>
<circle cx="1609.30" cy="1068.00" r="6.3" fill="#ff0000"/>
<path d="M1019.80,652.12 L1027.26,660.65 L1034.72,669.09 L1042.19,677.45 L1049.65,685.73 L1057.11,693.92 L1064.57,702.03 L1072.03,710.06 L1079.50,718.00 L1086.96,725.86 L1094.42,733.64 L1101.88,741.33 L1109.34,748.94 L1116.81,756.46 L1124.27,763.90 L1131.73,771.26 L1139.19,778.53 L1146.65,785.72 L1154.12,792.83 L1161.58,799.85 L1169.04,806.79 L1176.50,813.64 L1183.96,820.41 L1191.43,827.10 L1198.89,833.70 L1206.35,840.22 L1213.81,846.66 L1221.27,853.01 L1228.74,859.28 L1236.20,865.47 L1243.66,871.57 L1251.12,877.59 L1258.58,883.52 L1266.05,889.37 L1273.51,895.14 L1280.97,900.82 L1288.43,906.42 L1295.89,911.94 L1303.36,917.37 L1310.82,922.72 L1318.28,927.98 L1325.74,933.16 L1333.21,938.26 L1340.67,943.27 L1348.13,948.20 L1355.59,953.05 L1363.05,957.81 L1370.52,962.49 L1377.98,967.08 L1385.44,971.60 L1392.90,976.02 L1400.36,980.37 L1407.83,984.63 L1415.29,988.81 L1422.75,992.90 L1430.21,996.91 L1437.67,1000.83 L1445.14,1004.68 L1452.60,1008.43 L1460.06,1012.11 L1467.52,1015.70 L1474.98,1019.21 L1482.45,1022.63 L1489.91,1025.97 L1497.37,1029.23 L1504.83,1032.40 L1512.29,1035.49 L1519.76,1038.49 L1527.22,1041.41 L1534.68,1044.25 L1542.14,1047.01 L1549.60,1049.68 L1557.07,1052.26 L1564.53,1054.77 L1571.99,1057.19 L1579.45,1059.52 L1586.91,1061.77 L1594.38,1063.94 L1601.84,1066.03 L1609.30,1068.03" fill="none" stroke="#1e1e1e" stroke-width="2.2"/>
<path d="M1107.50,652.64 L1114.21,661.32 L1120.92,669.90 L1127.63,678.40 L1134.35,686.81 L1141.06,695.14 L1147.77,703.38 L1154.48,711.53 L1161.19,719.59 L1167.90,727.56 L1174.61,735.45 L1181.33,743.25 L1188.04,750.96 L1194.75,758.59 L1201.46,766.13 L1208.17,773.58 L1214.88,780.94 L1221.59,788.22 L1228.31,795.41 L1235.02,802.51 L1241.73,809.53 L1248.44,816.45 L1255.15,823.29 L1261.86,830.04 L1268.57,836.71 L1275.28,843.29 L1282.00,849.78 L1288.71,856.18 L1295.42,862.50 L1302.13,868.73 L1308.84,874.87 L1315.55,880.92 L1322.26,886.89 L1328.98,892.77 L1335.69,898.56 L1342.40,904.27 L1349.11,909.88 L1355.82,915.41 L1362.53,920.86 L1369.24,926.21 L1375.96,931.48 L1382.67,936.66 L1389.38,941.76 L1396.09,946.76 L1402.80,951.68 L1409.51,956.51 L1416.22,961.26 L1422.94,965.92 L1429.65,970.49 L1436.36,974.97 L1443.07,979.36 L1449.78,983.67 L1456.49,987.89 L1463.20,992.03 L1469.92,996.07 L1476.63,1000.03 L1483.34,1003.90 L1490.05,1007.69 L1496.76,1011.38 L1503.47,1014.99 L1510.18,1018.52 L1516.89,1021.95 L1523.61,1025.30 L1530.32,1028.56 L1537.03,1031.73 L1543.74,1034.82 L1550.45,1037.81 L1557.16,1040.73 L1563.87,1043.55 L1570.59,1046.29 L1577.30,1048.94 L1584.01,1051.50 L1590.72,1053.97 L1597.43,1056.36 L1604.14,1058.66 L1610.85,1060.87 L1617.57,1063.00 L1624.28,1065.03 L1630.99,1066.99 L1637.70,1068.85" fill="none" stroke="#1e1e1e" stroke-width="2.2"/>
<g transform="translate(0.00,0.00)">
<rect x="468.60" y="45.00" width="12.4" height="12.4" fill="#0000ff"/>
<circle cx="474.20" cy="105.70" r="6.3" fill="#ff0000"/>
<line x1="439.20" y1="158.10" x2="511.60" y2="158.10" stroke="#333" stroke-width="2.0" />
<g transform="translate(0.00,0.00)">
<text transform="translate(518.95,61.00) scale(1.2101,1)" font-family="'Liberation Serif', 'Times New Roman', serif" font-size="29.67" text-anchor="start" fill="#000">σ</text>
<text transform="translate(541.72,45.78) scale(0.8939,1)" font-family="'Liberation Serif', 'Times New Roman', serif" font-style="italic" font-size="18.44" text-anchor="start" fill="#000">χ</text>
<text x="550.62" y="59.07" font-family="'Liberation Serif', 'Times New Roman', serif" font-size="29.13" text-anchor="start" fill="#000">–</text>
<text transform="translate(568.47,61.30) scale(0.8970,1)" font-family="'Liberation Serif', 'Times New Roman', serif" font-size="33.59" text-anchor="start" fill="#000">T</text>
<text transform="translate(587.83,72.66) scale(1.2200,1)" font-family="'Liberation Serif', 'Times New Roman', serif" font-size="13.74" text-anchor="start" fill="#333">t</text>
</g>
<g transform="translate(0.00,0.00)">
<text transform="translate(518.96,116.11) scale(1.2516,1)" font-family="'Liberation Serif', 'Times New Roman', serif" font-size="28.52" text-anchor="start" fill="#000">σ</text>
<text transform="translate(540.13,101.70) scale(1.0847,1)" font-family="'Liberation Serif', 'Times New Roman', serif" font-size="19.58" text-anchor="start" fill="#000">υ</text>
<text x="552.62" y="114.77" font-family="'Liberation Serif', 'Times New Roman', serif" font-size="29.13" text-anchor="start" fill="#000">–</text>
<text transform="translate(570.00,116.40) scale(0.8692,1)" font-family="'Liberation Serif', 'Times New Roman', serif" font-size="32.67" text-anchor="start" fill="#000">T</text>
<text transform="translate(587.71,127.72) scale(1.1878,1)" font-family="'Liberation Serif', 'Times New Roman', serif" font-size="17.63" text-anchor="start" fill="#000">0</text>
</g>
<g transform="translate(0.00,0.00)">
<text transform="translate(519.64,168.90) scale(0.9892,1)" font-family="'Liberation Sans', Arial, sans-serif" font-size="33.55" text-anchor="start" fill="#000">2</text>
<text transform="translate(538.81,154.12) scale(1.0444,1)" font-family="'Liberation Sans', Arial, sans-serif" font-size="18.37" text-anchor="start" fill="#000">nd</text>
<text x="568.52" y="168.90" font-family="'Liberation Sans', Arial, sans-serif" font-size="32.53" text-anchor="start" fill="#000">order polynomial fit</text>
</g>
</g>
<g transform="translate(842.90,0.00)">
<rect x="468.60" y="43.60" width="12.4" height="12.4" fill="#0000ff"/>
<circle cx="474.20" cy="105.00" r="6.3" fill="#ff0000"/>
<line x1="438.40" y1="157.70" x2="511.60" y2="157.70" stroke="#333" stroke-width="2.0" />
<g transform="translate(0.00,0.00)">
<text transform="translate(518.95,61.00) scale(1.2101,1)" font-family="'Liberation Serif', 'Times New Roman', serif" font-size="29.67" text-anchor="start" fill="#000">σ</text>
<text transform="translate(541.72,45.78) scale(0.8939,1)" font-family="'Liberation Serif', 'Times New Roman', serif" font-style="italic" font-size="18.44" text-anchor="start" fill="#000">χ</text>
<text x="550.62" y="59.07" font-family="'Liberation Serif', 'Times New Roman', serif" font-size="29.13" text-anchor="start" fill="#000">–</text>
<text transform="translate(568.47,61.30) scale(0.8970,1)" font-family="'Liberation Serif', 'Times New Roman', serif" font-size="33.59" text-anchor="start" fill="#000">T</text>
<text transform="translate(587.83,72.66) scale(1.2200,1)" font-family="'Liberation Serif', 'Times New Roman', serif" font-size="13.74" text-anchor="start" fill="#333">t</text>
</g>
<g transform="translate(0.00,0.00)">
<text transform="translate(518.96,116.11) scale(1.2516,1)" font-family="'Liberation Serif', 'Times New Roman', serif" font-size="28.52" text-anchor="start" fill="#000">σ</text>
<text transform="translate(540.13,101.70) scale(1.0847,1)" font-family="'Liberation Serif', 'Times New Roman', serif" font-size="19.58" text-anchor="start" fill="#000">υ</text>
<text x="552.62" y="114.77" font-family="'Liberation Serif', 'Times New Roman', serif" font-size="29.13" text-anchor="start" fill="#000">–</text>
<text transform="translate(570.00,116.40) scale(0.8692,1)" font-family="'Liberation Serif', 'Times New Roman', serif" font-size="32.67" text-anchor="start" fill="#000">T</text>
<text transform="translate(587.71,127.72) scale(1.1878,1)" font-family="'Liberation Serif', 'Times New Roman', serif" font-size="17.63" text-anchor="start" fill="#000">0</text>
</g>
<g transform="translate(0.00,0.60)">
<text transform="translate(519.64,168.90) scale(0.9892,1)" font-family="'Liberation Sans', Arial, sans-serif" font-size="33.55" text-anchor="start" fill="#000">2</text>
<text transform="translate(538.81,154.12) scale(1.0444,1)" font-family="'Liberation Sans', Arial, sans-serif" font-size="18.37" text-anchor="start" fill="#000">nd</text>
<text x="568.52" y="168.90" font-family="'Liberation Sans', Arial, sans-serif" font-size="32.53" text-anchor="start" fill="#000">order polynomial fit</text>
</g>
</g>
<g transform="translate(0.00,595.90)">
<rect x="467.60" y="45.00" width="12.4" height="12.4" fill="#0000ff"/>
<circle cx="474.20" cy="106.50" r="6.3" fill="#ff0000"/>
<line x1="437.80" y1="159.80" x2="511.60" y2="159.80" stroke="#333" stroke-width="2.0" />
<g transform="translate(0.00,0.00)">
<text transform="translate(518.95,61.00) scale(1.2101,1)" font-family="'Liberation Serif', 'Times New Roman', serif" font-size="29.67" text-anchor="start" fill="#000">σ</text>
<text transform="translate(541.72,45.78) scale(0.8939,1)" font-family="'Liberation Serif', 'Times New Roman', serif" font-style="italic" font-size="18.44" text-anchor="start" fill="#000">χ</text>
<text x="550.62" y="59.07" font-family="'Liberation Serif', 'Times New Roman', serif" font-size="29.13" text-anchor="start" fill="#000">–</text>
<text transform="translate(568.47,61.30) scale(0.8970,1)" font-family="'Liberation Serif', 'Times New Roman', serif" font-size="33.59" text-anchor="start" fill="#000">T</text>
<text transform="translate(587.83,72.66) scale(1.2200,1)" font-family="'Liberation Serif', 'Times New Roman', serif" font-size="13.74" text-anchor="start" fill="#333">t</text>
</g>
<g transform="translate(0.00,0.80)">
<text transform="translate(518.96,116.11) scale(1.2516,1)" font-family="'Liberation Serif', 'Times New Roman', serif" font-size="28.52" text-anchor="start" fill="#000">σ</text>
<text transform="translate(540.13,101.70) scale(1.0847,1)" font-family="'Liberation Serif', 'Times New Roman', serif" font-size="19.58" text-anchor="start" fill="#000">υ</text>
<text x="552.62" y="114.77" font-family="'Liberation Serif', 'Times New Roman', serif" font-size="29.13" text-anchor="start" fill="#000">–</text>
<text transform="translate(570.00,116.40) scale(0.8692,1)" font-family="'Liberation Serif', 'Times New Roman', serif" font-size="32.67" text-anchor="start" fill="#000">T</text>
<text transform="translate(587.71,127.72) scale(1.1878,1)" font-family="'Liberation Serif', 'Times New Roman', serif" font-size="17.63" text-anchor="start" fill="#000">0</text>
</g>
<g transform="translate(0.00,1.60)">
<text transform="translate(519.64,168.90) scale(0.9892,1)" font-family="'Liberation Sans', Arial, sans-serif" font-size="33.55" text-anchor="start" fill="#000">2</text>
<text transform="translate(538.81,154.12) scale(1.0444,1)" font-family="'Liberation Sans', Arial, sans-serif" font-size="18.37" text-anchor="start" fill="#000">nd</text>
<text x="568.52" y="168.90" font-family="'Liberation Sans', Arial, sans-serif" font-size="32.53" text-anchor="start" fill="#000">order polynomial fit</text>
</g>
</g>
<g transform="translate(842.90,595.90)">
<rect x="466.60" y="45.20" width="12.4" height="12.4" fill="#0000ff"/>
<circle cx="473.60" cy="106.30" r="6.3" fill="#ff0000"/>
<line x1="437.00" y1="159.90" x2="511.60" y2="159.90" stroke="#333" stroke-width="2.0" />
<g transform="translate(-0.60,0.00)">
<text transform="translate(518.95,61.00) scale(1.2101,1)" font-family="'Liberation Serif', 'Times New Roman', serif" font-size="29.67" text-anchor="start" fill="#000">σ</text>
<text transform="translate(541.72,45.78) scale(0.8939,1)" font-family="'Liberation Serif', 'Times New Roman', serif" font-style="italic" font-size="18.44" text-anchor="start" fill="#000">χ</text>
<text x="550.62" y="59.07" font-family="'Liberation Serif', 'Times New Roman', serif" font-size="29.13" text-anchor="start" fill="#000">–</text>
<text transform="translate(568.47,61.30) scale(0.8970,1)" font-family="'Liberation Serif', 'Times New Roman', serif" font-size="33.59" text-anchor="start" fill="#000">T</text>
<text transform="translate(587.83,72.66) scale(1.2200,1)" font-family="'Liberation Serif', 'Times New Roman', serif" font-size="13.74" text-anchor="start" fill="#333">t</text>
</g>
<g transform="translate(-0.30,0.70)">
<text transform="translate(518.96,116.11) scale(1.2516,1)" font-family="'Liberation Serif', 'Times New Roman', serif" font-size="28.52" text-anchor="start" fill="#000">σ</text>
<text transform="translate(540.13,101.70) scale(1.0847,1)" font-family="'Liberation Serif', 'Times New Roman', serif" font-size="19.58" text-anchor="start" fill="#000">υ</text>
<text x="552.62" y="114.77" font-family="'Liberation Serif', 'Times New Roman', serif" font-size="29.13" text-anchor="start" fill="#000">–</text>
<text transform="translate(570.00,116.40) scale(0.8692,1)" font-family="'Liberation Serif', 'Times New Roman', serif" font-size="32.67" text-anchor="start" fill="#000">T</text>
<text transform="translate(587.71,127.72) scale(1.1878,1)" font-family="'Liberation Serif', 'Times New Roman', serif" font-size="17.63" text-anchor="start" fill="#000">0</text>
</g>
<g transform="translate(0.00,1.80)">
<text transform="translate(519.64,168.90) scale(0.9892,1)" font-family="'Liberation Sans', Arial, sans-serif" font-size="33.55" text-anchor="start" fill="#000">2</text>
<text transform="translate(538.81,154.12) scale(1.0444,1)" font-family="'Liberation Sans', Arial, sans-serif" font-size="18.37" text-anchor="start" fill="#000">nd</text>
<text x="568.52" y="168.90" font-family="'Liberation Sans', Arial, sans-serif" font-size="32.53" text-anchor="start" fill="#000">order polynomial fit</text>
</g>
</g>
<text transform="translate(146.80,385.58) scale(1.2549,1)" font-family="'Liberation Serif', 'Times New Roman', serif" font-style="italic" font-size="31.87" text-anchor="start" fill="#000">ε</text>
<circle cx="159.10" cy="365.20" r="1.9" fill="#000"/>
<text transform="translate(171.52,390.09) scale(1.0028,1)" font-family="'Liberation Serif', 'Times New Roman', serif" font-size="35.60" text-anchor="start" fill="#000">=</text>
<text transform="translate(198.54,386.45) scale(0.9624,1)" font-family="'Liberation Serif', 'Times New Roman', serif" font-size="34.96" text-anchor="start" fill="#000">0</text>
<text transform="translate(213.89,386.23) scale(1.0880,1)" font-family="'Liberation Serif', 'Times New Roman', serif" font-size="38.30" text-anchor="start" fill="#000">.</text>
<text transform="translate(223.24,386.45) scale(0.9624,1)" font-family="'Liberation Serif', 'Times New Roman', serif" font-size="34.96" text-anchor="start" fill="#000">0</text>
<text transform="translate(243.19,386.30) scale(0.5917,1)" font-family="'Liberation Serif', 'Times New Roman', serif" font-size="35.00" text-anchor="start" fill="#000">1</text>
<text transform="translate(254.02,386.47) scale(0.8832,1)" font-family="'Liberation Serif', 'Times New Roman', serif" font-size="33.33" text-anchor="start" fill="#000">s</text>
<text x="267.76" y="372.82" font-family="'Liberation Serif', 'Times New Roman', serif" font-size="18.71" text-anchor="start" fill="#000">−</text>
<text transform="translate(279.58,371.90) scale(0.7710,1)" font-family="'Liberation Serif', 'Times New Roman', serif" font-size="18.03" text-anchor="start" fill="#000">1</text>
<text transform="translate(997.81,419.69) scale(1.2973,1)" font-family="'Liberation Serif', 'Times New Roman', serif" font-style="italic" font-size="30.62" text-anchor="start" fill="#000">ε</text>
<circle cx="1009.50" cy="399.00" r="1.9" fill="#000"/>
<text transform="translate(1022.54,424.04) scale(1.0253,1)" font-family="'Liberation Serif', 'Times New Roman', serif" font-size="34.40" text-anchor="start" fill="#000">=</text>
<text transform="translate(1049.89,419.67) scale(1.0401,1)" font-family="'Liberation Serif', 'Times New Roman', serif" font-size="33.48" text-anchor="start" fill="#000">0</text>
<text transform="translate(1067.22,419.43) scale(0.6745,1)" font-family="'Liberation Serif', 'Times New Roman', serif" font-size="38.30" text-anchor="start" fill="#000">.</text>
<text transform="translate(1077.04,419.50) scale(0.7032,1)" font-family="'Liberation Serif', 'Times New Roman', serif" font-size="33.48" text-anchor="start" fill="#000">1</text>
<text transform="translate(1088.56,419.68) scale(0.9802,1)" font-family="'Liberation Serif', 'Times New Roman', serif" font-size="31.67" text-anchor="start" fill="#000">s</text>
<text x="1101.87" y="407.86" font-family="'Liberation Serif', 'Times New Roman', serif" font-size="20.65" text-anchor="start" fill="#000">−</text>
<text transform="translate(1114.03,406.60) scale(0.7983,1)" font-family="'Liberation Serif', 'Times New Roman', serif" font-size="19.55" text-anchor="start" fill="#000">1</text>
<text transform="translate(145.88,1015.08) scale(1.2973,1)" font-family="'Liberation Serif', 'Times New Roman', serif" font-style="italic" font-size="31.67" text-anchor="start" fill="#000">ε</text>
<circle cx="157.70" cy="994.80" r="1.9" fill="#000"/>
<text transform="translate(170.67,1020.09) scale(0.9726,1)" font-family="'Liberation Serif', 'Times New Roman', serif" font-size="35.60" text-anchor="start" fill="#000">=</text>
<text transform="translate(196.96,1015.40) scale(0.6730,1)" font-family="'Liberation Serif', 'Times New Roman', serif" font-size="32.88" text-anchor="start" fill="#000">1</text>
<text transform="translate(207.81,1015.37) scale(0.9757,1)" font-family="'Liberation Serif', 'Times New Roman', serif" font-size="33.13" text-anchor="start" fill="#000">s</text>
<text x="222.62" y="1003.61" font-family="'Liberation Serif', 'Times New Roman', serif" font-size="19.57" text-anchor="start" fill="#000">−</text>
<text transform="translate(235.61,1001.90) scale(0.5806,1)" font-family="'Liberation Serif', 'Times New Roman', serif" font-size="19.55" text-anchor="start" fill="#000">1</text>
<text transform="translate(1403.35,815.97) scale(1.2973,1)" font-family="'Liberation Serif', 'Times New Roman', serif" font-style="italic" font-size="32.71" text-anchor="start" fill="#000">ε</text>
<circle cx="1415.70" cy="794.80" r="1.9" fill="#000"/>
<text transform="translate(1428.12,819.92) scale(1.0258,1)" font-family="'Liberation Serif', 'Times New Roman', serif" font-size="34.80" text-anchor="start" fill="#000">=</text>
<text transform="translate(1453.46,816.80) scale(0.6764,1)" font-family="'Liberation Serif', 'Times New Roman', serif" font-size="34.39" text-anchor="start" fill="#000">1</text>
<text transform="translate(1468.68,816.96) scale(0.9447,1)" font-family="'Liberation Serif', 'Times New Roman', serif" font-size="34.37" text-anchor="start" fill="#000">0</text>
<text transform="translate(1484.07,816.97) scale(0.9216,1)" font-family="'Liberation Serif', 'Times New Roman', serif" font-size="33.33" text-anchor="start" fill="#000">s</text>
<text x="1498.71" y="803.18" font-family="'Liberation Serif', 'Times New Roman', serif" font-size="19.78" text-anchor="start" fill="#000">−</text>
<text transform="translate(1509.68,801.90) scale(0.7710,1)" font-family="'Liberation Serif', 'Times New Roman', serif" font-size="18.03" text-anchor="start" fill="#000">1</text>
<text x="147.13" y="425.90" font-family="'Liberation Serif', 'Times New Roman', serif" font-size="32.41" text-anchor="start" fill="#000">True strain=0.6</text>
<text x="146.58" y="470.40" font-family="'Liberation Serif', 'Times New Roman', serif" font-size="32.33" text-anchor="start" fill="#000">Adj. R-Square &gt;0.99</text>
<text x="995.23" y="458.40" font-family="'Liberation Serif', 'Times New Roman', serif" font-size="32.36" text-anchor="start" fill="#000">True strain=0.6</text>
<text x="995.48" y="498.90" font-family="'Liberation Serif', 'Times New Roman', serif" font-size="32.16" text-anchor="start" fill="#000">Adj. R-Square &gt;0.99</text>
<text transform="translate(1262.71,498.20) scale(1.0015,1)" font-family="'Liberation Serif', 'Times New Roman', serif" font-size="26.26" text-anchor="start" fill="#000">R</text>
<text transform="translate(1281.60,484.10) scale(0.9874,1)" font-family="'Liberation Serif', 'Times New Roman', serif" font-size="15.70" text-anchor="start" fill="#000">2</text>
<text x="1288.36" y="498.90" font-family="'Liberation Serif', 'Times New Roman', serif" font-size="26.74" text-anchor="start" fill="#000">&gt;0.99</text>
<text x="145.43" y="1057.00" font-family="'Liberation Serif', 'Times New Roman', serif" font-size="32.41" text-anchor="start" fill="#000">True strain=0.6</text>
<text x="144.78" y="1098.00" font-family="'Liberation Serif', 'Times New Roman', serif" font-size="32.33" text-anchor="start" fill="#000">Adj. R-Square &gt;0.99</text>
<text x="1403.33" y="859.70" font-family="'Liberation Serif', 'Times New Roman', serif" font-size="32.30" text-anchor="start" fill="#000">True strain=0.6</text>
<text x="1404.88" y="906.20" font-family="'Liberation Serif', 'Times New Roman', serif" font-size="32.45" text-anchor="start" fill="#000">Adj. R-Square &gt;0.99</text>
<text x="1483.23" y="437.20" font-family="'Liberation Serif', 'Times New Roman', serif" font-size="27.13" text-anchor="start" fill="#222">True strain=0.6</text>
</svg></body></html>
